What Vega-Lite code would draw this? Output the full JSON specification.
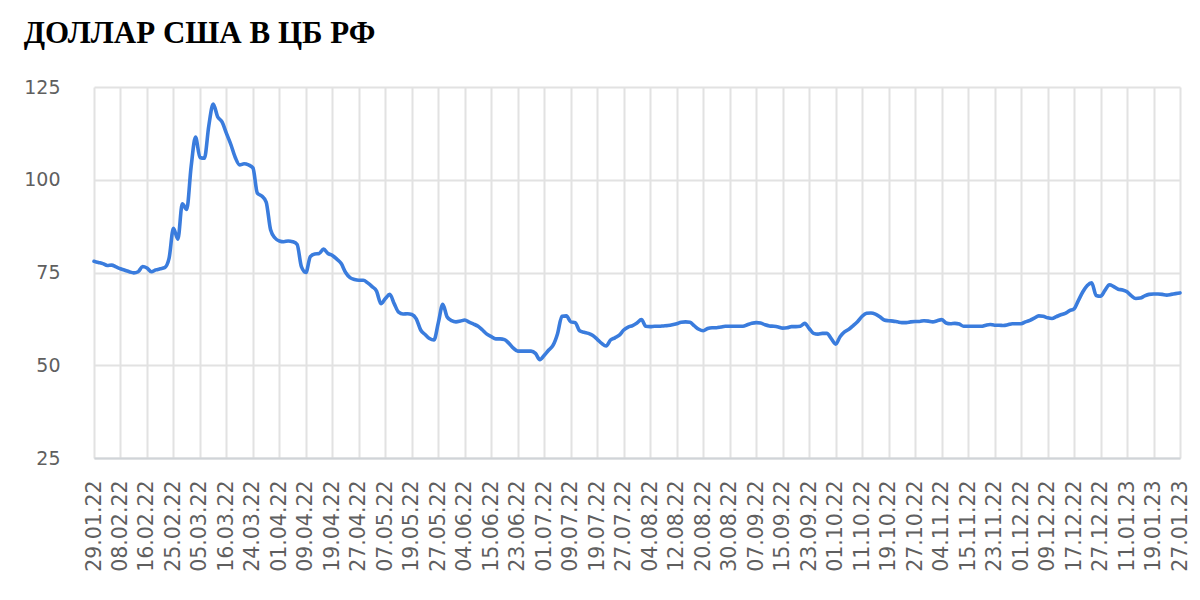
{
  "$schema": "https://vega.github.io/schema/vega-lite/v6.json",
  "width": 1086,
  "height": 371,
  "padding": {"left": 23, "top": 18, "right": 10, "bottom": 10},
  "background": "white",
  "config": {
    "view": {"stroke": "transparent"}
  },
  "title": {
    "text": "ДОЛЛАР США В ЦБ РФ",
    "anchor": "start",
    "frame": "bounds",
    "font": "Liberation Serif",
    "fontSize": 31,
    "fontWeight": "bold",
    "color": "#000000",
    "offset": 28
  },
  "data": {
    "values": [
      {"d": "29.01.22", "v": 78.0}, {"d": "01.02.22", "v": 77.7}, {"d": "02.02.22", "v": 77.4}, {"d": "03.02.22", "v": 76.9},
      {"d": "04.02.22", "v": 77.0}, {"d": "05.02.22", "v": 76.5}, {"d": "08.02.22", "v": 76.0}, {"d": "09.02.22", "v": 75.6},
      {"d": "10.02.22", "v": 75.2}, {"d": "11.02.22", "v": 74.9}, {"d": "12.02.22", "v": 75.2}, {"d": "15.02.22", "v": 76.6},
      {"d": "16.02.22", "v": 76.2}, {"d": "17.02.22", "v": 75.2}, {"d": "18.02.22", "v": 75.7}, {"d": "19.02.22", "v": 76.0},
      {"d": "22.02.22", "v": 76.3}, {"d": "23.02.22", "v": 78.8}, {"d": "25.02.22", "v": 86.9}, {"d": "26.02.22", "v": 84.0},
      {"d": "01.03.22", "v": 93.5}, {"d": "02.03.22", "v": 92.0}, {"d": "03.03.22", "v": 103.5}, {"d": "04.03.22", "v": 111.5},
      {"d": "05.03.22", "v": 106.0}, {"d": "09.03.22", "v": 105.8}, {"d": "10.03.22", "v": 114.5}, {"d": "11.03.22", "v": 120.4},
      {"d": "12.03.22", "v": 117.0}, {"d": "15.03.22", "v": 115.6}, {"d": "16.03.22", "v": 112.5}, {"d": "17.03.22", "v": 109.5},
      {"d": "18.03.22", "v": 106.0}, {"d": "19.03.22", "v": 104.0}, {"d": "22.03.22", "v": 104.3}, {"d": "23.03.22", "v": 104.0},
      {"d": "24.03.22", "v": 103.2}, {"d": "25.03.22", "v": 96.4}, {"d": "26.03.22", "v": 95.6}, {"d": "29.03.22", "v": 94.0},
      {"d": "30.03.22", "v": 86.5}, {"d": "31.03.22", "v": 84.3}, {"d": "01.04.22", "v": 83.5}, {"d": "02.04.22", "v": 83.3},
      {"d": "05.04.22", "v": 83.5}, {"d": "06.04.22", "v": 83.3}, {"d": "07.04.22", "v": 82.6}, {"d": "08.04.22", "v": 76.5},
      {"d": "09.04.22", "v": 75.0}, {"d": "12.04.22", "v": 79.3}, {"d": "13.04.22", "v": 80.0}, {"d": "14.04.22", "v": 80.1},
      {"d": "15.04.22", "v": 81.3}, {"d": "16.04.22", "v": 80.1}, {"d": "19.04.22", "v": 79.6}, {"d": "20.04.22", "v": 78.6},
      {"d": "21.04.22", "v": 77.4}, {"d": "22.04.22", "v": 75.0}, {"d": "23.04.22", "v": 73.6}, {"d": "26.04.22", "v": 73.1},
      {"d": "27.04.22", "v": 72.9}, {"d": "28.04.22", "v": 72.9}, {"d": "29.04.22", "v": 72.2}, {"d": "30.04.22", "v": 71.2},
      {"d": "05.05.22", "v": 70.0}, {"d": "06.05.22", "v": 66.6}, {"d": "07.05.22", "v": 68.0}, {"d": "12.05.22", "v": 69.1},
      {"d": "13.05.22", "v": 66.6}, {"d": "14.05.22", "v": 64.3}, {"d": "17.05.22", "v": 63.8}, {"d": "18.05.22", "v": 63.9},
      {"d": "19.05.22", "v": 63.7}, {"d": "20.05.22", "v": 62.5}, {"d": "21.05.22", "v": 59.5}, {"d": "24.05.22", "v": 58.3},
      {"d": "25.05.22", "v": 57.2}, {"d": "26.05.22", "v": 56.8}, {"d": "27.05.22", "v": 61.5}, {"d": "28.05.22", "v": 66.4},
      {"d": "31.05.22", "v": 63.0}, {"d": "01.06.22", "v": 62.0}, {"d": "02.06.22", "v": 61.7}, {"d": "03.06.22", "v": 61.9},
      {"d": "04.06.22", "v": 62.2}, {"d": "07.06.22", "v": 61.6}, {"d": "08.06.22", "v": 61.1}, {"d": "09.06.22", "v": 60.5},
      {"d": "10.06.22", "v": 59.5}, {"d": "11.06.22", "v": 58.4}, {"d": "15.06.22", "v": 57.7}, {"d": "16.06.22", "v": 57.1},
      {"d": "17.06.22", "v": 57.1}, {"d": "18.06.22", "v": 56.9}, {"d": "21.06.22", "v": 55.9}, {"d": "22.06.22", "v": 54.6},
      {"d": "23.06.22", "v": 53.8}, {"d": "24.06.22", "v": 53.8}, {"d": "25.06.22", "v": 53.8}, {"d": "28.06.22", "v": 53.8},
      {"d": "29.06.22", "v": 53.2}, {"d": "30.06.22", "v": 51.5}, {"d": "01.07.22", "v": 52.7}, {"d": "02.07.22", "v": 54.1},
      {"d": "05.07.22", "v": 55.4}, {"d": "06.07.22", "v": 58.5}, {"d": "07.07.22", "v": 63.2}, {"d": "08.07.22", "v": 63.3},
      {"d": "09.07.22", "v": 61.7}, {"d": "12.07.22", "v": 61.5}, {"d": "13.07.22", "v": 59.3}, {"d": "14.07.22", "v": 58.9},
      {"d": "15.07.22", "v": 58.6}, {"d": "16.07.22", "v": 58.0}, {"d": "19.07.22", "v": 57.0}, {"d": "20.07.22", "v": 55.9},
      {"d": "21.07.22", "v": 55.2}, {"d": "22.07.22", "v": 56.8}, {"d": "23.07.22", "v": 57.4}, {"d": "26.07.22", "v": 58.1},
      {"d": "27.07.22", "v": 59.5}, {"d": "28.07.22", "v": 60.3}, {"d": "29.07.22", "v": 60.7}, {"d": "30.07.22", "v": 61.4},
      {"d": "02.08.22", "v": 62.3}, {"d": "03.08.22", "v": 60.5}, {"d": "04.08.22", "v": 60.4}, {"d": "05.08.22", "v": 60.5},
      {"d": "06.08.22", "v": 60.5}, {"d": "09.08.22", "v": 60.6}, {"d": "10.08.22", "v": 60.7}, {"d": "11.08.22", "v": 60.9},
      {"d": "12.08.22", "v": 61.2}, {"d": "13.08.22", "v": 61.6}, {"d": "16.08.22", "v": 61.7}, {"d": "17.08.22", "v": 61.6},
      {"d": "18.08.22", "v": 60.6}, {"d": "19.08.22", "v": 59.7}, {"d": "20.08.22", "v": 59.3}, {"d": "23.08.22", "v": 59.9},
      {"d": "24.08.22", "v": 60.1}, {"d": "25.08.22", "v": 60.1}, {"d": "26.08.22", "v": 60.3}, {"d": "27.08.22", "v": 60.5},
      {"d": "30.08.22", "v": 60.5}, {"d": "31.08.22", "v": 60.5}, {"d": "01.09.22", "v": 60.5}, {"d": "02.09.22", "v": 60.5},
      {"d": "03.09.22", "v": 60.9}, {"d": "06.09.22", "v": 61.3}, {"d": "07.09.22", "v": 61.5}, {"d": "08.09.22", "v": 61.4},
      {"d": "09.09.22", "v": 60.9}, {"d": "10.09.22", "v": 60.6}, {"d": "13.09.22", "v": 60.5}, {"d": "14.09.22", "v": 60.3},
      {"d": "15.09.22", "v": 60.0}, {"d": "16.09.22", "v": 60.1}, {"d": "17.09.22", "v": 60.4}, {"d": "20.09.22", "v": 60.4},
      {"d": "21.09.22", "v": 60.5}, {"d": "22.09.22", "v": 61.3}, {"d": "23.09.22", "v": 59.9}, {"d": "24.09.22", "v": 58.6},
      {"d": "27.09.22", "v": 58.4}, {"d": "28.09.22", "v": 58.6}, {"d": "29.09.22", "v": 58.6}, {"d": "30.09.22", "v": 57.2},
      {"d": "01.10.22", "v": 55.7}, {"d": "04.10.22", "v": 57.7}, {"d": "05.10.22", "v": 59.0}, {"d": "06.10.22", "v": 59.7},
      {"d": "07.10.22", "v": 60.7}, {"d": "08.10.22", "v": 61.8}, {"d": "11.10.22", "v": 63.2}, {"d": "12.10.22", "v": 64.0},
      {"d": "13.10.22", "v": 64.1}, {"d": "14.10.22", "v": 63.8}, {"d": "15.10.22", "v": 63.1}, {"d": "18.10.22", "v": 62.2},
      {"d": "19.10.22", "v": 62.0}, {"d": "20.10.22", "v": 61.9}, {"d": "21.10.22", "v": 61.7}, {"d": "22.10.22", "v": 61.5},
      {"d": "25.10.22", "v": 61.5}, {"d": "26.10.22", "v": 61.7}, {"d": "27.10.22", "v": 61.8}, {"d": "28.10.22", "v": 61.8},
      {"d": "29.10.22", "v": 62.0}, {"d": "01.11.22", "v": 61.9}, {"d": "02.11.22", "v": 61.7}, {"d": "03.11.22", "v": 62.0},
      {"d": "04.11.22", "v": 62.3}, {"d": "08.11.22", "v": 61.4}, {"d": "09.11.22", "v": 61.2}, {"d": "10.11.22", "v": 61.3},
      {"d": "11.11.22", "v": 61.1}, {"d": "12.11.22", "v": 60.5}, {"d": "15.11.22", "v": 60.5}, {"d": "16.11.22", "v": 60.5},
      {"d": "17.11.22", "v": 60.5}, {"d": "18.11.22", "v": 60.5}, {"d": "19.11.22", "v": 60.8}, {"d": "22.11.22", "v": 61.0},
      {"d": "23.11.22", "v": 60.8}, {"d": "24.11.22", "v": 60.8}, {"d": "25.11.22", "v": 60.7}, {"d": "26.11.22", "v": 60.9},
      {"d": "29.11.22", "v": 61.2}, {"d": "30.11.22", "v": 61.2}, {"d": "01.12.22", "v": 61.2}, {"d": "02.12.22", "v": 61.7},
      {"d": "03.12.22", "v": 62.1}, {"d": "06.12.22", "v": 62.7}, {"d": "07.12.22", "v": 63.3}, {"d": "08.12.22", "v": 63.2},
      {"d": "09.12.22", "v": 62.8}, {"d": "10.12.22", "v": 62.6}, {"d": "13.12.22", "v": 63.1}, {"d": "14.12.22", "v": 63.6},
      {"d": "15.12.22", "v": 64.0}, {"d": "16.12.22", "v": 64.7}, {"d": "17.12.22", "v": 65.2}, {"d": "20.12.22", "v": 67.5},
      {"d": "21.12.22", "v": 69.8}, {"d": "22.12.22", "v": 71.5}, {"d": "23.12.22", "v": 72.2}, {"d": "24.12.22", "v": 68.8},
      {"d": "27.12.22", "v": 68.6}, {"d": "28.12.22", "v": 70.2}, {"d": "29.12.22", "v": 71.7}, {"d": "30.12.22", "v": 71.2},
      {"d": "31.12.22", "v": 70.5}, {"d": "10.01.23", "v": 70.3}, {"d": "11.01.23", "v": 69.8}, {"d": "12.01.23", "v": 68.7},
      {"d": "13.01.23", "v": 68.0}, {"d": "14.01.23", "v": 68.1}, {"d": "17.01.23", "v": 68.7}, {"d": "18.01.23", "v": 69.1},
      {"d": "19.01.23", "v": 69.2}, {"d": "20.01.23", "v": 69.2}, {"d": "21.01.23", "v": 69.1}, {"d": "24.01.23", "v": 68.9},
      {"d": "25.01.23", "v": 69.1}, {"d": "26.01.23", "v": 69.3}, {"d": "27.01.23", "v": 69.5}
    ]
  },
  "mark": {
    "type": "line",
    "color": "#3a7cdd",
    "strokeWidth": 3.6,
    "strokeCap": "round",
    "strokeJoin": "round",
    "interpolate": "monotone"
  },
  "encoding": {
    "x": {
      "field": "d",
      "type": "ordinal",
      "sort": null,
      "scale": {"type": "point", "padding": 0},
      "axis": {
        "title": null,
        "values": ["29.01.22", "08.02.22", "16.02.22", "25.02.22", "05.03.22", "16.03.22", "24.03.22", "01.04.22", "09.04.22", "19.04.22", "27.04.22", "07.05.22", "19.05.22", "27.05.22", "04.06.22", "15.06.22", "23.06.22", "01.07.22", "09.07.22", "19.07.22", "27.07.22", "04.08.22", "12.08.22", "20.08.22", "30.08.22", "07.09.22", "15.09.22", "23.09.22", "01.10.22", "11.10.22", "19.10.22", "27.10.22", "04.11.22", "15.11.22", "23.11.22", "01.12.22", "09.12.22", "17.12.22", "27.12.22", "11.01.23", "19.01.23", "27.01.23"],
        "labelAngle": -90,
        "labelAlign": "right",
        "labelBaseline": "middle",
        "labelFont": "DejaVu Sans",
        "labelFontSize": 20.5,
        "labelColor": "#5f5f5f",
        "labelPadding": 22,
        "labelOverlap": false,
        "ticks": false,
        "domainColor": "#d0d4d8",
        "domainWidth": 2,
        "grid": true,
        "gridColor": "#e2e2e2",
        "gridWidth": 2
      }
    },
    "y": {
      "field": "v",
      "type": "quantitative",
      "scale": {"domain": [25, 125], "nice": false, "zero": false},
      "axis": {
        "title": null,
        "values": [25, 50, 75, 100, 125],
        "domain": false,
        "ticks": false,
        "labelFont": "DejaVu Sans",
        "labelFontSize": 19,
        "labelColor": "#5f5f5f",
        "labelPadding": 34,
        "gridColor": "#e2e2e2",
        "gridWidth": 2
      }
    }
  }
}
